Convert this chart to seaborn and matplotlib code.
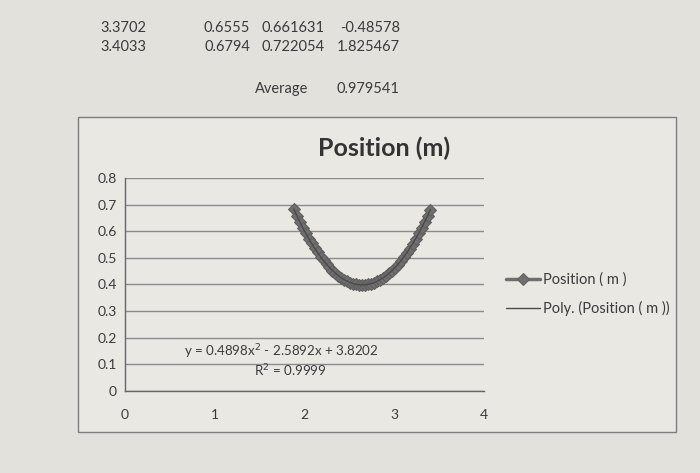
import numpy as np
import pandas as pd
import matplotlib
matplotlib.use("Agg")
import matplotlib.pyplot as plt
from matplotlib.patches import Rectangle
import seaborn as sns

sns.set_theme(style="white")
plt.rcParams["font.family"] = ["Lato", "DejaVu Sans"]

# table rows printed above the chart
table_time = ["3.3702", "3.4033"]
table_cols = [["0.6555", "0.661631", "-0.48578"],
              ["0.6794", "0.722054", "1.825467"]]
average_label = "Average"
average_value = "0.979541"

# measured position vs time
time_s = [1.8807, 1.9138, 1.9469, 1.9800, 2.0131, 2.0462, 2.0793, 2.1124,
          2.1455, 2.1786, 2.2117, 2.2448, 2.2779, 2.3110, 2.3441, 2.3772,
          2.4103, 2.4434, 2.4765, 2.5096, 2.5427, 2.5758, 2.6089, 2.6420,
          2.6751, 2.7082, 2.7413, 2.7744, 2.8075, 2.8406, 2.8737, 2.9068,
          2.9399, 2.9730, 3.0061, 3.0392, 3.0723, 3.1054, 3.1385, 3.1716,
          3.2047, 3.2378, 3.2709, 3.3040, 3.3371, 3.3702, 3.4033]
position_m = [0.6838, 0.6585, 0.6362, 0.6131, 0.5934, 0.5722, 0.5546, 0.5358,
              0.5203, 0.5035, 0.4901, 0.4755, 0.4642, 0.4519, 0.4427, 0.4326,
              0.4254, 0.4176, 0.4123, 0.4068, 0.4037, 0.4003, 0.3993, 0.3982,
              0.3991, 0.4002, 0.4034, 0.4066, 0.4121, 0.4172, 0.4249, 0.4321,
              0.4420, 0.4513, 0.4634, 0.4749, 0.4890, 0.5027, 0.5190, 0.5348,
              0.5533, 0.5712, 0.5919, 0.6120, 0.6347, 0.6555, 0.6794]

# trendline coefficients as printed on the chart
poly_coef = [0.4898, -2.5892, 3.8202]
r_squared = "0.9999"

df = pd.DataFrame({"t": time_s, "pos": position_m})
t_fit = np.linspace(min(time_s), max(time_s), 200)
fit = pd.DataFrame({"t": t_fit, "pos": np.polyval(poly_coef, t_fit)})

ink = "#3b3b3b"
fig = plt.figure(figsize=(7, 4.73), dpi=100, facecolor="#e3e1dc")

# chart border
fig.patches.append(Rectangle((0.111, 0.0867), 0.854, 0.666, transform=fig.transFigure,
                             facecolor="#eae8e3", edgecolor="#7d7d7d", lw=1.0, zorder=-5))

# table text on top
for i, row_y in enumerate([0.94, 0.90]):
    fig.text(0.143, row_y, table_time[i], ha="left", va="center", fontsize=10.5, color=ink)
    fig.text(0.357, row_y, table_cols[i][0], ha="right", va="center", fontsize=10.5, color=ink)
    fig.text(0.464, row_y, table_cols[i][1], ha="right", va="center", fontsize=10.5, color=ink)
    fig.text(0.571, row_y, table_cols[i][2], ha="right", va="center", fontsize=10.5, color=ink)
fig.text(0.441, 0.812, average_label, ha="right", va="center", fontsize=10.5, color=ink)
fig.text(0.571, 0.812, average_value, ha="right", va="center", fontsize=10.5, color=ink)

ax = fig.add_axes([0.1786, 0.1734, 0.5129, 0.4503])
ax.set_zorder(2)
ax.set_facecolor("none")

sns.lineplot(data=df, x="t", y="pos", marker="D", markersize=6, color="#6f6f6f",
             linewidth=2.5, markeredgecolor="#5f5f5f", label="Position ( m )", ax=ax, zorder=3)
sns.lineplot(data=fit, x="t", y="pos", color="#4a4a4a", linewidth=1,
             label="Poly. (Position ( m ))", ax=ax, zorder=4)

ax.set_xlim(0, 4)
ax.set_ylim(0, 0.8)
ax.set_xticks([0, 1, 2, 3, 4])
ax.set_yticks(np.arange(0, 0.81, 0.1))
ax.set_xticklabels(["0", "1", "2", "3", "4"])
ax.set_yticklabels(["0", "0.1", "0.2", "0.3", "0.4", "0.5", "0.6", "0.7", "0.8"])
ax.set_xlabel("")
ax.set_ylabel("")
ax.yaxis.grid(True, color="#8c8c8c", linewidth=1)
ax.xaxis.grid(False)
for side in ["top", "right"]:
    ax.spines[side].set_visible(False)
for side in ["left", "bottom"]:
    ax.spines[side].set_color("#666666")
    ax.spines[side].set_linewidth(1)
ax.tick_params(axis="y", direction="out", length=5, color="#777777", labelsize=10,
               labelcolor=ink, pad=1)
ax.tick_params(axis="x", direction="inout", length=6, color="#777777", labelsize=10,
               labelcolor=ink, pad=10)

fig.text(0.549, 0.687, "Position (m)", ha="center", va="center", fontsize=18,
         fontweight="bold", color="#333333")

ax.text(1.74, 0.147, "y = 0.4898x$^2$ - 2.5892x + 3.8202", ha="center", va="center",
        fontsize=9.6, color=ink)
ax.text(1.84, 0.078, "R$^2$ = " + r_squared, ha="center", va="center",
        fontsize=9.6, color=ink)

ax.legend(loc="center left", bbox_to_anchor=(0.7045, 0.378), bbox_transform=fig.transFigure,
          frameon=False, fontsize=10.5, handlelength=2.3, handletextpad=0.2,
          labelspacing=0.95, labelcolor=ink)

fig.savefig("out.png", dpi=100, facecolor=fig.get_facecolor())
